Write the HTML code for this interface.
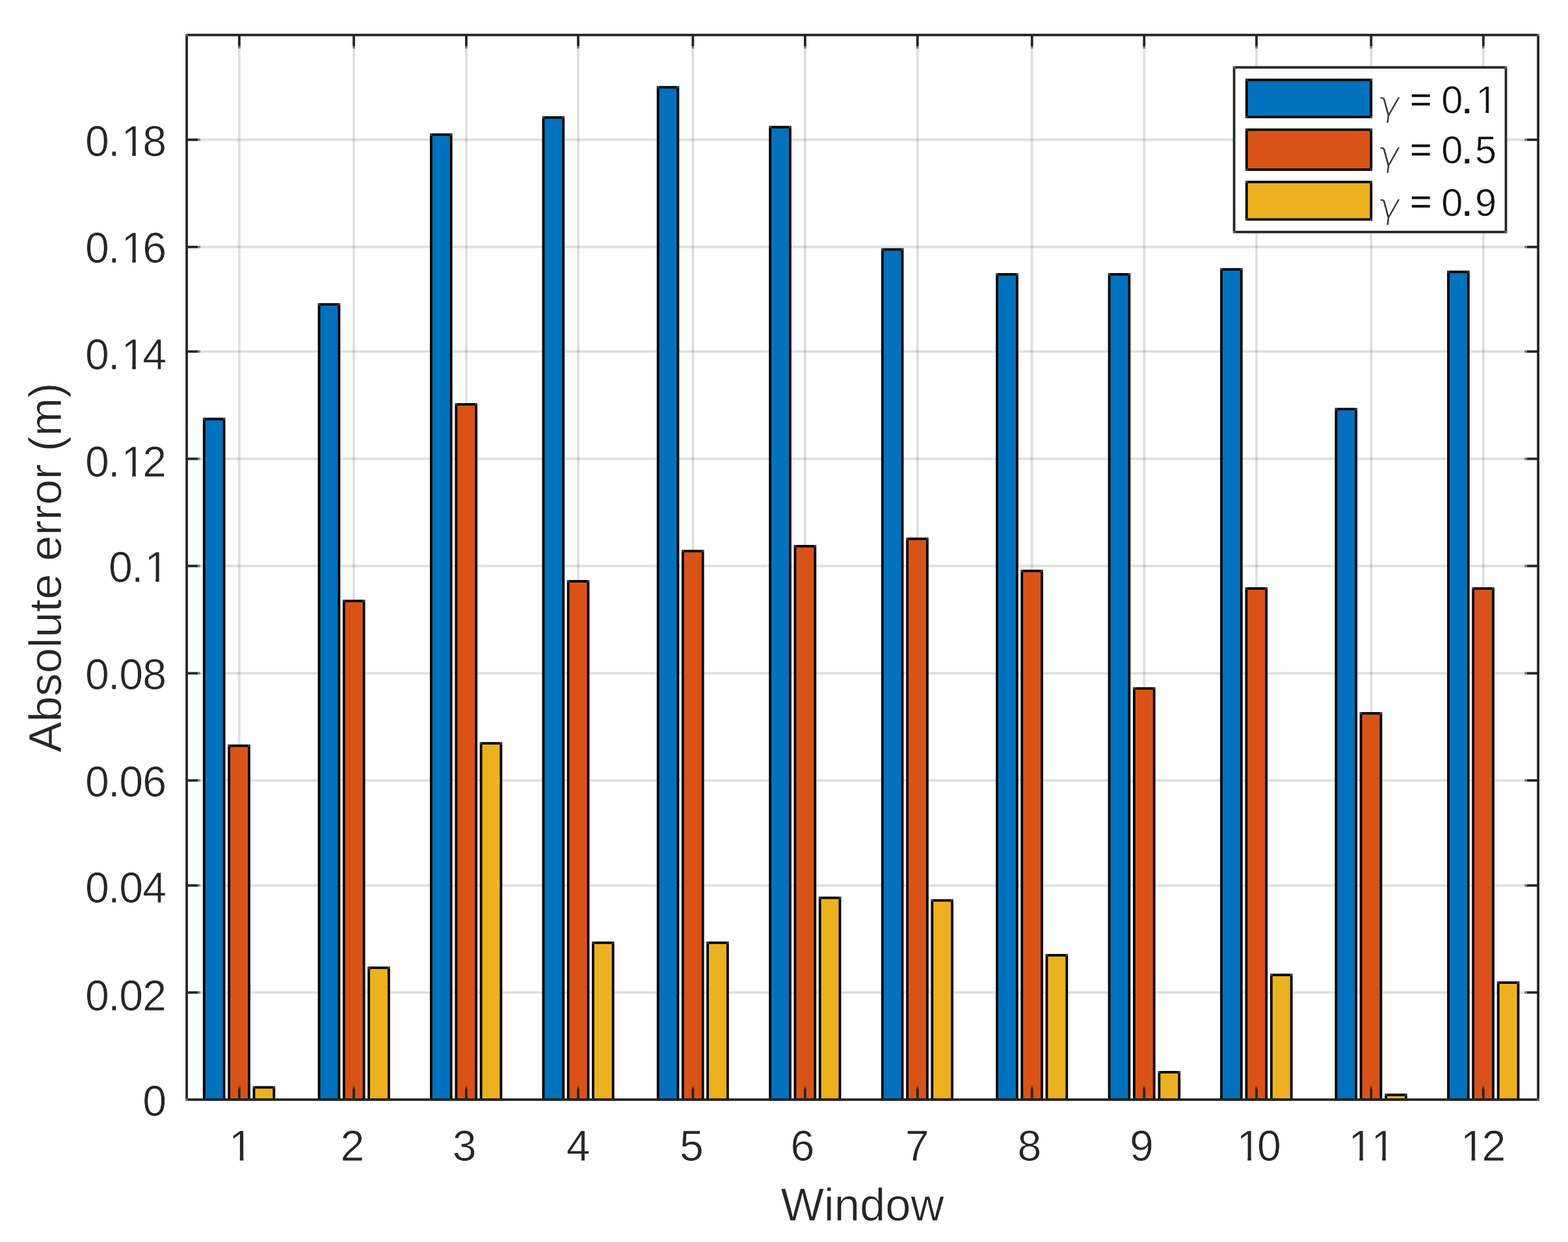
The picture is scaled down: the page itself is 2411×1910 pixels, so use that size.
<!DOCTYPE html>
<html lang="en"><head><meta charset="utf-8"><title>Absolute error per window</title>
<style>html,body{margin:0;padding:0;background:#fff}body{width:2411px;height:1910px;overflow:hidden}svg{display:block}text{font-family:"Liberation Sans",Arial,Helvetica,sans-serif;fill:#262626;stroke:#fff;stroke-width:0.7px;font-kerning:none;font-variant-ligatures:none}.lg text{fill:#111}.lg text.e{stroke:#111;stroke-width:0.4px}.lg text.g{font-family:"DejaVu Sans","Liberation Sans",sans-serif;font-weight:200;fill:#3a3a3a;stroke:none}</style></head><body>
<svg width="2411" height="1910" viewBox="0 0 2411 1910" role="img" aria-label="Grouped bar chart of absolute error per window">
<rect width="2411" height="1910" fill="#fff"/>
<g fill="#262626" fill-opacity="0.15">
<rect x="366.00" y="53.80" width="3.80" height="1637.25"/>
<rect x="542.20" y="53.80" width="3.80" height="1637.25"/>
<rect x="715.00" y="53.80" width="3.80" height="1637.25"/>
<rect x="887.10" y="53.80" width="3.80" height="1637.25"/>
<rect x="1063.50" y="53.80" width="3.80" height="1637.25"/>
<rect x="1236.00" y="53.80" width="3.80" height="1637.25"/>
<rect x="1408.90" y="53.80" width="3.80" height="1637.25"/>
<rect x="1584.90" y="53.80" width="3.80" height="1637.25"/>
<rect x="1757.40" y="53.80" width="3.80" height="1637.25"/>
<rect x="1930.10" y="53.80" width="3.80" height="1637.25"/>
<rect x="2106.40" y="53.80" width="3.80" height="1637.25"/>
<rect x="2278.90" y="53.80" width="3.80" height="1637.25"/>
<rect x="287.10" y="1524.40" width="2078.00" height="3.80"/>
<rect x="287.10" y="1359.80" width="2078.00" height="3.80"/>
<rect x="287.10" y="1198.30" width="2078.00" height="3.80"/>
<rect x="287.10" y="1033.50" width="2078.00" height="3.80"/>
<rect x="287.10" y="868.50" width="2078.00" height="3.80"/>
<rect x="287.10" y="703.70" width="2078.00" height="3.80"/>
<rect x="287.10" y="538.70" width="2078.00" height="3.80"/>
<rect x="287.10" y="377.90" width="2078.00" height="3.80"/>
<rect x="287.10" y="213.00" width="2078.00" height="3.80"/>
</g>
<g stroke="#000" stroke-width="3.80">
<rect x="313.80" y="644.30" width="30.80" height="1046.75" fill="#0072BD"/>
<rect x="352.20" y="1146.80" width="30.80" height="544.25" fill="#D95319"/>
<rect x="390.50" y="1672.20" width="30.80" height="18.85" fill="#EDB120"/>
<rect x="490.60" y="468.10" width="30.80" height="1222.95" fill="#0072BD"/>
<rect x="528.80" y="924.20" width="30.80" height="766.85" fill="#D95319"/>
<rect x="567.10" y="1488.30" width="30.80" height="202.75" fill="#EDB120"/>
<rect x="662.90" y="207.00" width="30.80" height="1484.05" fill="#0072BD"/>
<rect x="701.40" y="621.80" width="30.80" height="1069.25" fill="#D95319"/>
<rect x="739.60" y="1143.10" width="30.80" height="547.95" fill="#EDB120"/>
<rect x="835.50" y="180.60" width="30.80" height="1510.45" fill="#0072BD"/>
<rect x="873.70" y="893.90" width="30.80" height="797.15" fill="#D95319"/>
<rect x="911.90" y="1449.80" width="30.80" height="241.25" fill="#EDB120"/>
<rect x="1011.70" y="134.20" width="30.80" height="1556.85" fill="#0072BD"/>
<rect x="1049.90" y="847.50" width="30.80" height="843.55" fill="#D95319"/>
<rect x="1088.10" y="1449.80" width="30.80" height="241.25" fill="#EDB120"/>
<rect x="1184.20" y="195.50" width="30.80" height="1495.55" fill="#0072BD"/>
<rect x="1222.50" y="839.90" width="30.80" height="851.15" fill="#D95319"/>
<rect x="1260.70" y="1380.70" width="30.80" height="310.35" fill="#EDB120"/>
<rect x="1356.80" y="383.60" width="30.80" height="1307.45" fill="#0072BD"/>
<rect x="1395.10" y="828.60" width="30.80" height="862.45" fill="#D95319"/>
<rect x="1433.30" y="1384.70" width="30.80" height="306.35" fill="#EDB120"/>
<rect x="1533.10" y="421.90" width="30.80" height="1269.15" fill="#0072BD"/>
<rect x="1571.30" y="878.00" width="30.80" height="813.05" fill="#D95319"/>
<rect x="1609.50" y="1469.00" width="30.80" height="222.05" fill="#EDB120"/>
<rect x="1705.60" y="421.90" width="30.80" height="1269.15" fill="#0072BD"/>
<rect x="1743.90" y="1058.70" width="30.80" height="632.35" fill="#D95319"/>
<rect x="1782.40" y="1648.90" width="30.80" height="42.15" fill="#EDB120"/>
<rect x="1878.00" y="414.20" width="30.80" height="1276.85" fill="#0072BD"/>
<rect x="1916.40" y="905.00" width="30.80" height="786.05" fill="#D95319"/>
<rect x="1954.90" y="1499.30" width="30.80" height="191.75" fill="#EDB120"/>
<rect x="2054.40" y="629.10" width="30.80" height="1061.95" fill="#0072BD"/>
<rect x="2092.60" y="1097.00" width="30.80" height="594.05" fill="#D95319"/>
<rect x="2131.10" y="1683.70" width="30.80" height="7.35" fill="#EDB120"/>
<rect x="2227.00" y="418.10" width="30.80" height="1272.95" fill="#0072BD"/>
<rect x="2265.20" y="905.00" width="30.80" height="786.05" fill="#D95319"/>
<rect x="2303.70" y="1511.10" width="30.80" height="179.95" fill="#EDB120"/>
</g>
<g fill="#fff" fill-opacity="0.22">
<rect x="311.90" y="642.40" width="3.80" height="3.80"/>
<rect x="342.70" y="642.40" width="3.80" height="3.80"/>
<rect x="350.30" y="1144.90" width="3.80" height="3.80"/>
<rect x="381.10" y="1144.90" width="3.80" height="3.80"/>
<rect x="388.60" y="1670.30" width="3.80" height="3.80"/>
<rect x="419.40" y="1670.30" width="3.80" height="3.80"/>
<rect x="488.70" y="466.20" width="3.80" height="3.80"/>
<rect x="519.50" y="466.20" width="3.80" height="3.80"/>
<rect x="526.90" y="922.30" width="3.80" height="3.80"/>
<rect x="557.70" y="922.30" width="3.80" height="3.80"/>
<rect x="565.20" y="1486.40" width="3.80" height="3.80"/>
<rect x="596.00" y="1486.40" width="3.80" height="3.80"/>
<rect x="661.00" y="205.10" width="3.80" height="3.80"/>
<rect x="691.80" y="205.10" width="3.80" height="3.80"/>
<rect x="699.50" y="619.90" width="3.80" height="3.80"/>
<rect x="730.30" y="619.90" width="3.80" height="3.80"/>
<rect x="737.70" y="1141.20" width="3.80" height="3.80"/>
<rect x="768.50" y="1141.20" width="3.80" height="3.80"/>
<rect x="833.60" y="178.70" width="3.80" height="3.80"/>
<rect x="864.40" y="178.70" width="3.80" height="3.80"/>
<rect x="871.80" y="892.00" width="3.80" height="3.80"/>
<rect x="902.60" y="892.00" width="3.80" height="3.80"/>
<rect x="910.00" y="1447.90" width="3.80" height="3.80"/>
<rect x="940.80" y="1447.90" width="3.80" height="3.80"/>
<rect x="1009.80" y="132.30" width="3.80" height="3.80"/>
<rect x="1040.60" y="132.30" width="3.80" height="3.80"/>
<rect x="1048.00" y="845.60" width="3.80" height="3.80"/>
<rect x="1078.80" y="845.60" width="3.80" height="3.80"/>
<rect x="1086.20" y="1447.90" width="3.80" height="3.80"/>
<rect x="1117.00" y="1447.90" width="3.80" height="3.80"/>
<rect x="1182.30" y="193.60" width="3.80" height="3.80"/>
<rect x="1213.10" y="193.60" width="3.80" height="3.80"/>
<rect x="1220.60" y="838.00" width="3.80" height="3.80"/>
<rect x="1251.40" y="838.00" width="3.80" height="3.80"/>
<rect x="1258.80" y="1378.80" width="3.80" height="3.80"/>
<rect x="1289.60" y="1378.80" width="3.80" height="3.80"/>
<rect x="1354.90" y="381.70" width="3.80" height="3.80"/>
<rect x="1385.70" y="381.70" width="3.80" height="3.80"/>
<rect x="1393.20" y="826.70" width="3.80" height="3.80"/>
<rect x="1424.00" y="826.70" width="3.80" height="3.80"/>
<rect x="1431.40" y="1382.80" width="3.80" height="3.80"/>
<rect x="1462.20" y="1382.80" width="3.80" height="3.80"/>
<rect x="1531.20" y="420.00" width="3.80" height="3.80"/>
<rect x="1562.00" y="420.00" width="3.80" height="3.80"/>
<rect x="1569.40" y="876.10" width="3.80" height="3.80"/>
<rect x="1600.20" y="876.10" width="3.80" height="3.80"/>
<rect x="1607.60" y="1467.10" width="3.80" height="3.80"/>
<rect x="1638.40" y="1467.10" width="3.80" height="3.80"/>
<rect x="1703.70" y="420.00" width="3.80" height="3.80"/>
<rect x="1734.50" y="420.00" width="3.80" height="3.80"/>
<rect x="1742.00" y="1056.80" width="3.80" height="3.80"/>
<rect x="1772.80" y="1056.80" width="3.80" height="3.80"/>
<rect x="1780.50" y="1647.00" width="3.80" height="3.80"/>
<rect x="1811.30" y="1647.00" width="3.80" height="3.80"/>
<rect x="1876.10" y="412.30" width="3.80" height="3.80"/>
<rect x="1906.90" y="412.30" width="3.80" height="3.80"/>
<rect x="1914.50" y="903.10" width="3.80" height="3.80"/>
<rect x="1945.30" y="903.10" width="3.80" height="3.80"/>
<rect x="1953.00" y="1497.40" width="3.80" height="3.80"/>
<rect x="1983.80" y="1497.40" width="3.80" height="3.80"/>
<rect x="2052.50" y="627.20" width="3.80" height="3.80"/>
<rect x="2083.30" y="627.20" width="3.80" height="3.80"/>
<rect x="2090.70" y="1095.10" width="3.80" height="3.80"/>
<rect x="2121.50" y="1095.10" width="3.80" height="3.80"/>
<rect x="2129.20" y="1681.80" width="3.80" height="3.80"/>
<rect x="2160.00" y="1681.80" width="3.80" height="3.80"/>
<rect x="2225.10" y="416.20" width="3.80" height="3.80"/>
<rect x="2255.90" y="416.20" width="3.80" height="3.80"/>
<rect x="2263.30" y="903.10" width="3.80" height="3.80"/>
<rect x="2294.10" y="903.10" width="3.80" height="3.80"/>
<rect x="2301.80" y="1509.20" width="3.80" height="3.80"/>
<rect x="2332.60" y="1509.20" width="3.80" height="3.80"/>
</g>
<g fill="#262626">
<rect x="285.20" y="51.90" width="2081.80" height="3.80"/>
<rect x="285.20" y="1689.15" width="2081.80" height="3.80"/>
<rect x="285.20" y="53.80" width="3.80" height="1637.25"/>
<rect x="2363.20" y="53.80" width="3.80" height="1637.25"/>
<rect x="366.00" y="1673.85" width="3.80" height="17.20"/>
<rect x="366.00" y="1670.05" width="3.80" height="3.80" fill-opacity="0.5"/>
<rect x="366.00" y="53.80" width="3.80" height="17.20"/>
<rect x="366.00" y="71.00" width="3.80" height="3.80" fill-opacity="0.5"/>
<rect x="542.20" y="1673.85" width="3.80" height="17.20"/>
<rect x="542.20" y="1670.05" width="3.80" height="3.80" fill-opacity="0.5"/>
<rect x="542.20" y="53.80" width="3.80" height="17.20"/>
<rect x="542.20" y="71.00" width="3.80" height="3.80" fill-opacity="0.5"/>
<rect x="715.00" y="1673.85" width="3.80" height="17.20"/>
<rect x="715.00" y="1670.05" width="3.80" height="3.80" fill-opacity="0.5"/>
<rect x="715.00" y="53.80" width="3.80" height="17.20"/>
<rect x="715.00" y="71.00" width="3.80" height="3.80" fill-opacity="0.5"/>
<rect x="887.10" y="1673.85" width="3.80" height="17.20"/>
<rect x="887.10" y="1670.05" width="3.80" height="3.80" fill-opacity="0.5"/>
<rect x="887.10" y="53.80" width="3.80" height="17.20"/>
<rect x="887.10" y="71.00" width="3.80" height="3.80" fill-opacity="0.5"/>
<rect x="1063.50" y="1673.85" width="3.80" height="17.20"/>
<rect x="1063.50" y="1670.05" width="3.80" height="3.80" fill-opacity="0.5"/>
<rect x="1063.50" y="53.80" width="3.80" height="17.20"/>
<rect x="1063.50" y="71.00" width="3.80" height="3.80" fill-opacity="0.5"/>
<rect x="1236.00" y="1673.85" width="3.80" height="17.20"/>
<rect x="1236.00" y="1670.05" width="3.80" height="3.80" fill-opacity="0.5"/>
<rect x="1236.00" y="53.80" width="3.80" height="17.20"/>
<rect x="1236.00" y="71.00" width="3.80" height="3.80" fill-opacity="0.5"/>
<rect x="1408.90" y="1673.85" width="3.80" height="17.20"/>
<rect x="1408.90" y="1670.05" width="3.80" height="3.80" fill-opacity="0.5"/>
<rect x="1408.90" y="53.80" width="3.80" height="17.20"/>
<rect x="1408.90" y="71.00" width="3.80" height="3.80" fill-opacity="0.5"/>
<rect x="1584.90" y="1673.85" width="3.80" height="17.20"/>
<rect x="1584.90" y="1670.05" width="3.80" height="3.80" fill-opacity="0.5"/>
<rect x="1584.90" y="53.80" width="3.80" height="17.20"/>
<rect x="1584.90" y="71.00" width="3.80" height="3.80" fill-opacity="0.5"/>
<rect x="1757.40" y="1673.85" width="3.80" height="17.20"/>
<rect x="1757.40" y="1670.05" width="3.80" height="3.80" fill-opacity="0.5"/>
<rect x="1757.40" y="53.80" width="3.80" height="17.20"/>
<rect x="1757.40" y="71.00" width="3.80" height="3.80" fill-opacity="0.5"/>
<rect x="1930.10" y="1673.85" width="3.80" height="17.20"/>
<rect x="1930.10" y="1670.05" width="3.80" height="3.80" fill-opacity="0.5"/>
<rect x="1930.10" y="53.80" width="3.80" height="17.20"/>
<rect x="1930.10" y="71.00" width="3.80" height="3.80" fill-opacity="0.5"/>
<rect x="2106.40" y="1673.85" width="3.80" height="17.20"/>
<rect x="2106.40" y="1670.05" width="3.80" height="3.80" fill-opacity="0.5"/>
<rect x="2106.40" y="53.80" width="3.80" height="17.20"/>
<rect x="2106.40" y="71.00" width="3.80" height="3.80" fill-opacity="0.5"/>
<rect x="2278.90" y="1673.85" width="3.80" height="17.20"/>
<rect x="2278.90" y="1670.05" width="3.80" height="3.80" fill-opacity="0.5"/>
<rect x="2278.90" y="53.80" width="3.80" height="17.20"/>
<rect x="2278.90" y="71.00" width="3.80" height="3.80" fill-opacity="0.5"/>
<rect x="287.10" y="1524.40" width="17.20" height="3.80"/>
<rect x="304.30" y="1524.40" width="3.80" height="3.80" fill-opacity="0.5"/>
<rect x="2347.90" y="1524.40" width="17.20" height="3.80"/>
<rect x="2344.10" y="1524.40" width="3.80" height="3.80" fill-opacity="0.5"/>
<rect x="287.10" y="1359.80" width="17.20" height="3.80"/>
<rect x="304.30" y="1359.80" width="3.80" height="3.80" fill-opacity="0.5"/>
<rect x="2347.90" y="1359.80" width="17.20" height="3.80"/>
<rect x="2344.10" y="1359.80" width="3.80" height="3.80" fill-opacity="0.5"/>
<rect x="287.10" y="1198.30" width="17.20" height="3.80"/>
<rect x="304.30" y="1198.30" width="3.80" height="3.80" fill-opacity="0.5"/>
<rect x="2347.90" y="1198.30" width="17.20" height="3.80"/>
<rect x="2344.10" y="1198.30" width="3.80" height="3.80" fill-opacity="0.5"/>
<rect x="287.10" y="1033.50" width="17.20" height="3.80"/>
<rect x="304.30" y="1033.50" width="3.80" height="3.80" fill-opacity="0.5"/>
<rect x="2347.90" y="1033.50" width="17.20" height="3.80"/>
<rect x="2344.10" y="1033.50" width="3.80" height="3.80" fill-opacity="0.5"/>
<rect x="287.10" y="868.50" width="17.20" height="3.80"/>
<rect x="304.30" y="868.50" width="3.80" height="3.80" fill-opacity="0.5"/>
<rect x="2347.90" y="868.50" width="17.20" height="3.80"/>
<rect x="2344.10" y="868.50" width="3.80" height="3.80" fill-opacity="0.5"/>
<rect x="287.10" y="703.70" width="17.20" height="3.80"/>
<rect x="304.30" y="703.70" width="3.80" height="3.80" fill-opacity="0.5"/>
<rect x="2347.90" y="703.70" width="17.20" height="3.80"/>
<rect x="2344.10" y="703.70" width="3.80" height="3.80" fill-opacity="0.5"/>
<rect x="287.10" y="538.70" width="17.20" height="3.80"/>
<rect x="304.30" y="538.70" width="3.80" height="3.80" fill-opacity="0.5"/>
<rect x="2347.90" y="538.70" width="17.20" height="3.80"/>
<rect x="2344.10" y="538.70" width="3.80" height="3.80" fill-opacity="0.5"/>
<rect x="287.10" y="377.90" width="17.20" height="3.80"/>
<rect x="304.30" y="377.90" width="3.80" height="3.80" fill-opacity="0.5"/>
<rect x="2347.90" y="377.90" width="17.20" height="3.80"/>
<rect x="2344.10" y="377.90" width="3.80" height="3.80" fill-opacity="0.5"/>
<rect x="287.10" y="213.00" width="17.20" height="3.80"/>
<rect x="304.30" y="213.00" width="3.80" height="3.80" fill-opacity="0.5"/>
<rect x="2347.90" y="213.00" width="17.20" height="3.80"/>
<rect x="2344.10" y="213.00" width="3.80" height="3.80" fill-opacity="0.5"/>
</g>
<g fill="#fff" fill-opacity="0.28">
<rect x="285.20" y="51.90" width="3.80" height="3.80"/>
<rect x="285.20" y="1689.15" width="3.80" height="3.80"/>
<rect x="2363.20" y="51.90" width="3.80" height="3.80"/>
<rect x="2363.20" y="1689.15" width="3.80" height="3.80"/>
</g>
<text x="219.2" y="1716.0" font-size="66.3">0</text>
<text x="131.0 166.0 183.2 219.2" y="1554.2" font-size="66.3">0.02</text>
<text x="131.0 166.0 183.2 219.2" y="1387.6" font-size="66.3">0.04</text>
<text x="131.0 166.0 183.2 219.2" y="1225.2" font-size="66.3">0.06</text>
<text x="131.0 166.0 183.2 219.2" y="1059.6" font-size="66.3">0.08</text>
<text x="167.0 201.9 222.4" y="894.6" font-size="66.3">0.1</text>
<text x="131.0 166.0 186.4 219.2" y="732.5" font-size="66.3">0.12</text>
<text x="131.0 166.0 186.4 219.2" y="567.5" font-size="66.3">0.14</text>
<text x="131.0 166.0 186.4 219.2" y="404.0" font-size="66.3">0.16</text>
<text x="131.0 166.0 186.4 219.2" y="240.1" font-size="66.3">0.18</text>
<text x="352.0" y="1784.7" font-size="66.3">1</text>
<text x="523.6" y="1784.7" font-size="66.3">2</text>
<text x="695.8" y="1784.7" font-size="66.3">3</text>
<text x="870.7" y="1784.7" font-size="66.3">4</text>
<text x="1045.0" y="1784.7" font-size="66.3">5</text>
<text x="1215.6" y="1784.7" font-size="66.3">6</text>
<text x="1391.8" y="1784.7" font-size="66.3">7</text>
<text x="1564.5" y="1784.7" font-size="66.3">8</text>
<text x="1737.0" y="1784.7" font-size="66.3">9</text>
<text x="1901.5 1932.9" y="1784.7" font-size="66.3">10</text>
<text x="2073.5 2108.4" y="1784.7" font-size="66.3">11</text>
<text x="2245.8 2278.5" y="1784.7" font-size="66.3">12</text>
<text x="1326" y="1876.6" font-size="70.6" text-anchor="middle">Window</text>
<text transform="translate(94.2,872.8) rotate(-90)" font-size="70.6" text-anchor="middle">Absolute error (m)</text>
<g class="lg">
<rect x="1897.6" y="103.6" width="417.9" height="253.2" fill="#fff" stroke="#262626" stroke-width="3.80"/>
<rect x="1916.80" y="122.80" width="191.50" height="57.10" fill="#0072BD" stroke="#000" stroke-width="3.80"/>
<text class="g" transform="translate(2118,177.6) skewX(-7) scale(1.1,1)" font-size="52">γ</text>
<text class="e" transform="translate(2168.2,170.9) scale(0.95,0.86)" font-size="59.5">=</text>
<text class="big" x="2216.3 2247.9 2269.2" y="174.1" font-size="59.5">0.1</text>
<rect x="1916.80" y="199.40" width="191.50" height="61.50" fill="#D95319" stroke="#000" stroke-width="3.80"/>
<text class="g" transform="translate(2118,254.7) skewX(-7) scale(1.1,1)" font-size="52">γ</text>
<text class="e" transform="translate(2168.2,248.0) scale(0.95,0.86)" font-size="59.5">=</text>
<text class="big" x="2216.3 2247.9 2267.9" y="251.2" font-size="59.5">0.5</text>
<rect x="1916.80" y="279.80" width="191.50" height="57.70" fill="#EDB120" stroke="#000" stroke-width="3.80"/>
<text class="g" transform="translate(2118,335.1) skewX(-7) scale(1.1,1)" font-size="52">γ</text>
<text class="e" transform="translate(2168.2,328.4) scale(0.95,0.86)" font-size="59.5">=</text>
<text class="big" x="2216.3 2247.9 2267.9" y="331.6" font-size="59.5">0.9</text>
</g>
<g fill="#fff" fill-opacity="0.28">
<rect x="1895.70" y="101.70" width="3.80" height="3.80"/>
<rect x="1895.70" y="354.90" width="3.80" height="3.80"/>
<rect x="2313.60" y="101.70" width="3.80" height="3.80"/>
<rect x="2313.60" y="354.90" width="3.80" height="3.80"/>
</g>
<g fill="#fff" fill-opacity="0.22">
<rect x="1914.90" y="120.90" width="3.80" height="3.80"/>
<rect x="1914.90" y="178.00" width="3.80" height="3.80"/>
<rect x="2106.40" y="120.90" width="3.80" height="3.80"/>
<rect x="2106.40" y="178.00" width="3.80" height="3.80"/>
<rect x="1914.90" y="197.50" width="3.80" height="3.80"/>
<rect x="1914.90" y="259.00" width="3.80" height="3.80"/>
<rect x="2106.40" y="197.50" width="3.80" height="3.80"/>
<rect x="2106.40" y="259.00" width="3.80" height="3.80"/>
<rect x="1914.90" y="277.90" width="3.80" height="3.80"/>
<rect x="1914.90" y="335.60" width="3.80" height="3.80"/>
<rect x="2106.40" y="277.90" width="3.80" height="3.80"/>
<rect x="2106.40" y="335.60" width="3.80" height="3.80"/>
</g>
<g fill="#fff">
<rect x="226.28" y="888.45" width="12.94" height="7.65"/>
<rect x="244.78" y="888.45" width="12.42" height="7.65"/>
<rect x="190.33" y="726.35" width="12.94" height="7.65"/>
<rect x="208.83" y="726.35" width="12.42" height="7.65"/>
<rect x="190.33" y="561.35" width="12.94" height="7.65"/>
<rect x="208.83" y="561.35" width="12.42" height="7.65"/>
<rect x="190.33" y="397.85" width="12.94" height="7.65"/>
<rect x="208.83" y="397.85" width="12.42" height="7.65"/>
<rect x="190.33" y="233.95" width="12.94" height="7.65"/>
<rect x="208.83" y="233.95" width="12.42" height="7.65"/>
<rect x="355.88" y="1778.55" width="12.94" height="7.65"/>
<rect x="374.38" y="1778.55" width="12.42" height="7.65"/>
<rect x="1905.38" y="1778.55" width="12.94" height="7.65"/>
<rect x="1923.88" y="1778.55" width="12.42" height="7.65"/>
<rect x="2077.38" y="1778.55" width="12.94" height="7.65"/>
<rect x="2095.88" y="1778.55" width="12.42" height="7.65"/>
<rect x="2112.28" y="1778.55" width="12.94" height="7.65"/>
<rect x="2130.78" y="1778.55" width="12.42" height="7.65"/>
<rect x="2249.68" y="1778.55" width="12.94" height="7.65"/>
<rect x="2268.18" y="1778.55" width="12.42" height="7.65"/>
<rect x="2272.69" y="168.45" width="11.63" height="7.15"/>
<rect x="2289.27" y="168.45" width="11.16" height="7.15"/>
</g>
<rect x="2252.43" y="167.34" width="6.77" height="6.86" fill="#111"/>
<rect x="2252.43" y="244.44" width="6.77" height="6.86" fill="#111"/>
<rect x="2252.43" y="324.84" width="6.77" height="6.86" fill="#111"/>
</svg></body></html>
